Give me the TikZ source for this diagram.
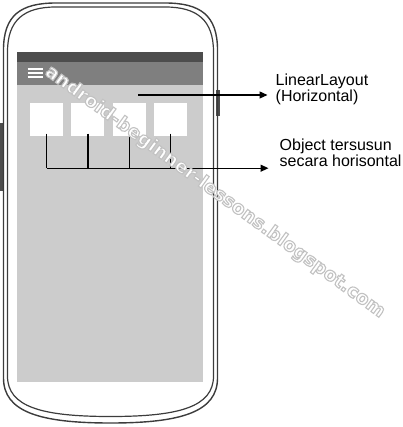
\documentclass[tikz,border=0pt]{standalone}
\usepackage{fontspec}
\setmainfont{Liberation Sans}
\newfontfamily\markfont{DejaVu Sans}
\usetikzlibrary{arrows.meta,positioning}
\definecolor{phoneline}{HTML}{3C3C3C}
\definecolor{statusbar}{HTML}{4D4D4D}
\definecolor{actionbar}{HTML}{7F7F7F}
\definecolor{screenbg}{HTML}{CCCCCC}
\begin{document}
\begin{tikzpicture}[x=1pt, y=-1pt,
    item/.style = {fill=white, minimum size=33pt, inner sep=0pt},
    infotext/.style = {anchor=base west, align=left, inner sep=0pt,
        font=\fontsize{16}{16}\selectfont},
    link/.style = {line width=1.2pt, -{Triangle[length=8pt, width=7pt]}}]
    \useasboundingbox (0,0) rectangle (402,427);
    % phone body
    \fill [statusbar] (0,123) rectangle (4,191);
    \fill [statusbar] (216,90) rectangle (219.5,116);
    \draw [phoneline, line width=1.4pt] (3.5,50) -- (3.5,378)
        .. controls (3.5,412) and (40,423) .. (110.5,423)
        .. controls (181,423) and (217.5,412) .. (217.5,378) -- (217.5,50)
        .. controls (217.5,15) and (200,3) .. (165,3) -- (56,3)
        .. controls (21,3) and (3.5,15) .. (3.5,50) -- cycle;
    \draw [phoneline, line width=1.2pt] (7.5,52) -- (7.5,376)
        .. controls (7.5,407) and (42,416.5) .. (110.5,416.5)
        .. controls (179,416.5) and (213.5,407) .. (213.5,376) -- (213.5,52)
        .. controls (213.5,20) and (197,7) .. (165,7) -- (56,7)
        .. controls (24,7) and (7.5,20) .. (7.5,52) -- cycle;
    % screen
    \fill [screenbg] (17,85) rectangle (203,382);
    \fill [actionbar] (17,62) rectangle (203,85);
    \fill [statusbar] (17,52) rectangle (203,62);
    \foreach \y in {69,73,77}
        \draw [white, line width=2pt] (27.5,\y) -- (42.5,\y);
    % items
    \node [item] (box1) at (46.5,120) {};
    \node [item, right=8pt of box1] (box2) {};
    \node [item, right=8pt of box2] (box3) {};
    \node [item, right=8pt of box3] (box4) {};
    % labels
    \node [infotext] (linlabel) at (275.5,102) {LinearLayout\\(Horizontal)};
    \node [infotext] (objlabel) at (279.5,167) {Object tersusun\\secara horisontal};
    % connectors
    \coordinate (linstart) at (138,95);
    \draw [link, shorten >=8pt] (linstart) -- (linstart -| linlabel.west);
    \path (box1.south) ++(0,31.5) coordinate (bus);
    \foreach \i in {1,...,4}
        \draw [line width=1.2pt] ([yshift=3pt]box\i.south) -- (box\i.south |- bus);
    \draw [link, shorten >=11pt] (bus) -- (bus -| objlabel.west);
    % watermark
    \node [text=white, rotate=-36, font=\markfont\fontsize{18.5}{18.5}\bfseries\selectfont]
        (mark) at (215,192)
        {\special{pdf:literal direct 2 Tr 1.1 w 0.76 G}android-beginner-lessons.blogspot.com\special{pdf:literal direct 0 Tr}};
\end{tikzpicture}
\end{document}
